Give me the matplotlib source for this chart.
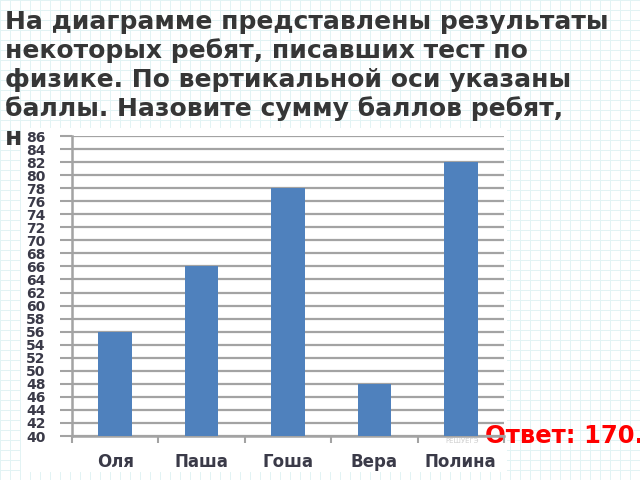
import matplotlib
matplotlib.use("Agg")
import matplotlib.pyplot as plt
from matplotlib.patches import Rectangle

# --- data ---
names = ["Оля", "Паша", "Гоша", "Вера", "Полина"]
scores = [56, 66, 78, 48, 82]
y_ticks = list(range(40, 87, 2))

question_lines = [
    "На диаграмме представлены результаты",
    "некоторых ребят, писавших тест по",
    "физике. По вертикальной оси указаны",
    "баллы. Назовите сумму баллов ребят,",
    "н",
]
answer = "Ответ: 170."

BAR_COLOR = "#4f81bd"
GRID_COLOR = "#a3a3a3"
TEXT_COLOR = "#363636"
LABEL_COLOR = "#3a3a48"


def main():
    plt.rcParams["font.family"] = ["DejaVu Sans"]
    fig = plt.figure(figsize=(6.4, 4.8), dpi=100)

    # graph-paper background in pixel coordinates
    bg = fig.add_axes([0, 0, 1, 1])
    bg.set_xlim(0, 640)
    bg.set_ylim(480, 0)
    bg.set_xticks(range(0, 641, 10))
    bg.set_yticks(range(0, 481, 10))
    bg.tick_params(length=0, labelbottom=False, labelleft=False)
    bg.grid(True, color="#e2f3f4", lw=0.7)
    for s in bg.spines.values():
        s.set_visible(False)

    for i, line in enumerate(question_lines):
        bg.text(5, 29 + i * 29, line, fontsize=18, fontweight="bold",
                color=TEXT_COLOR, ha="left", va="baseline")

    # white box of the pasted chart picture
    bg.add_patch(Rectangle((21, 128), 486, 344, facecolor="white",
                           edgecolor="none", zorder=3))

    # --- the bar chart itself ---
    ax = fig.add_axes([72 / 640, 1 - 436 / 480, 432 / 640, 300 / 480])
    ax.patch.set_alpha(0)
    x = range(len(names))
    ax.bar(x, scores, width=0.39, color=BAR_COLOR, zorder=3)
    ax.set_xlim(-0.5, len(names) - 0.5)
    ax.set_ylim(40, 86)

    ax.set_yticks(y_ticks)
    ax.set_yticklabels([str(v) for v in y_ticks], fontsize=10,
                       fontweight="bold", color=LABEL_COLOR)
    ax.tick_params(axis="y", length=9, width=1.5, color=GRID_COLOR, pad=10)
    ax.yaxis.grid(True, color=GRID_COLOR, lw=1.6)
    ax.set_axisbelow(True)

    ax.set_xticks([i - 0.5 for i in range(len(names) + 1)])
    ax.set_xticklabels([])
    ax.tick_params(axis="x", which="major", length=5, width=1.5,
                   color=GRID_COLOR)
    ax.set_xticks(list(x), minor=True)
    ax.set_xticklabels(names, minor=True, fontsize=12, fontweight="bold",
                       color=LABEL_COLOR)
    ax.tick_params(axis="x", which="minor", length=0, pad=12)

    for side in ["top", "right"]:
        ax.spines[side].set_visible(False)
    for side in ["left", "bottom"]:
        ax.spines[side].set_color(GRID_COLOR)
        ax.spines[side].set_linewidth(1.8)

    # faint watermark and the red answer
    bg.text(462, 441, "РЕШУЕГЭ", fontsize=5, color="#cfcfcf",
            ha="center", va="center", zorder=4)
    bg.text(485, 443, answer, fontsize=17.5, fontweight="bold",
            color="#ff0000", ha="left", va="baseline", zorder=5)

    fig.savefig("out.png", dpi=100)
    plt.close(fig)


if __name__ == "__main__":
    main()
